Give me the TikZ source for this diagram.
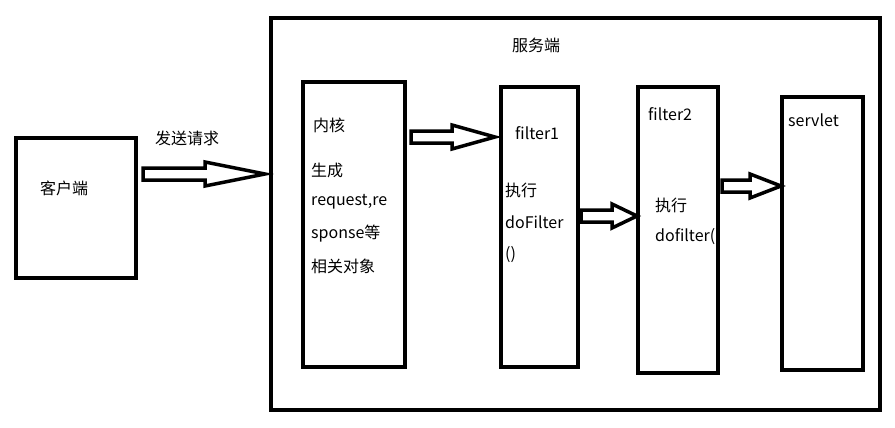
\documentclass[tikz,border=0pt]{standalone}
\usepackage{fontspec}
\setmainfont{Noto Sans CJK SC}
\begin{document}
\begin{tikzpicture}[x=1pt,y=-1pt,
  box/.style={draw,line width=3.5pt},
  lbl/.style={anchor=west,inner sep=0pt,font=\fontsize{16}{18}\selectfont},
  barrow/.style={draw,line width=3.5pt,line join=miter,fill=white}]
\useasboundingbox (0,0) rectangle (895,428);
\newcommand\blockarrow[4]{% x1 x2 y headstart
  \draw[barrow] (#1,#3-6) -- (#4,#3-6) -- (#4,#3-12) -- (#2,#3) -- (#4,#3+12) -- (#4,#3+6) -- (#1,#3+6) -- cycle;}
\draw[box] (16,138) rectangle (136,278);
\node[lbl] (c) at (40,188) {客户端};
\draw[box] (271,18) rectangle (880,410);
\node[lbl] (s) at (512,45) {服务端};
\draw[box] (303,82) rectangle (405,367);
\node[lbl] at (313,125) {内核};
\node[lbl] at (311,170) {生成};
\node[lbl] at (311,202) {request,re};
\node[lbl] at (311,234) {sponse等};
\node[lbl] at (311,266) {相关对象};
\draw[box] (501,87) rectangle (578,367);
\node[lbl] at (515,133) {filter1};
\node[lbl] at (505,190) {执行};
\node[lbl] at (505,222) {doFilter};
\node[lbl] at (505,255) {()};
\draw[box] (638,87) rectangle (718,373);
\node[lbl] at (648,114) {filter2};
\node[lbl] at (655,205) {执行};
\node[lbl] at (655,237) {dofilter()};
\draw[box] (782,97) rectangle (863,370);
\node[lbl] at (788,120) {servlet};
\node[lbl] at (155,138) {发送请求};
\blockarrow{143}{265}{174}{205}
\blockarrow{411}{495}{137}{452}
\blockarrow{581}{637}{216}{612}
\blockarrow{722}{781}{186}{750}
\end{tikzpicture}
\end{document}
